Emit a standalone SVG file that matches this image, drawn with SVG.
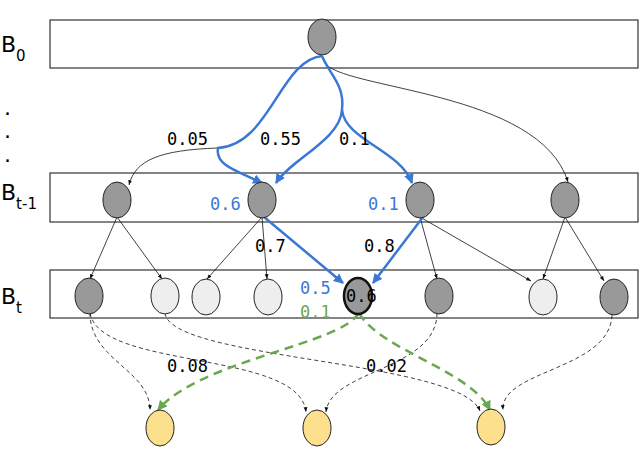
<svg xmlns="http://www.w3.org/2000/svg" width="644" height="450" viewBox="0 0 644 450">
<style>
.box{fill:#fff;stroke:#333;stroke-width:1.2}
.d{fill:#999;stroke:#222;stroke-width:1}
.l{fill:#eee;stroke:#222;stroke-width:1}
.y{fill:#fde08e;stroke:#222;stroke-width:1}
.k{fill:none;stroke:#111;stroke-width:0.8}
.kd{fill:none;stroke:#111;stroke-width:0.8;stroke-dasharray:4 3}
.b{fill:none;stroke:#3a78d6;stroke-width:2.5}
.g{fill:none;stroke:#6aa84f;stroke-width:2.5;stroke-dasharray:9 6}
text{font-family:"DejaVu Sans Mono",monospace;font-size:17px}
.lab{font-family:"DejaVu Sans",sans-serif;font-size:22px}
</style>
<defs>
<marker id="ak" viewBox="0 0 10 10" refX="10" refY="5" markerWidth="6" markerHeight="6" orient="auto"><path d="M0,1 L10,5 L0,9z" fill="#111"/></marker>
<marker id="ab" viewBox="0 0 10 10" refX="9" refY="5" markerWidth="4" markerHeight="4" orient="auto"><path d="M0,0 L10,5 L0,10z" fill="#3a78d6"/></marker>
<marker id="ag" viewBox="0 0 10 10" refX="9" refY="5" markerWidth="4" markerHeight="4" orient="auto"><path d="M0,0 L10,5 L0,10z" fill="#6aa84f"/></marker>
</defs>
<rect class="box" x="50" y="20" width="588" height="48"/>
<rect class="box" x="50" y="173" width="588" height="49"/>
<rect class="box" x="50" y="270" width="588" height="48"/>
<text class="lab" x="1" y="52">B<tspan font-size="15" dy="9">0</tspan></text>
<text class="lab" x="1" y="200">B<tspan font-size="15" dy="9">t-1</tspan></text>
<text class="lab" x="1" y="304">B<tspan font-size="15" dy="9">t</tspan></text>
<text class="lab" x="4" y="115" font-size="14">.</text>
<text class="lab" x="4" y="138" font-size="14">.</text>
<text class="lab" x="4" y="162" font-size="14">.</text>
<g id="connectors">
<path class="k" d="M218,148 C160,150 135,160 129,185" marker-end="url(#ak)"/>
<path class="k" d="M324,62 C340,90 540,90 568,182" marker-end="url(#ak)"/>
<path class="b" d="M322,56 C280,60 270,145 218,148 C215,165 235,170 262,183" marker-end="url(#ab)"/>
<path class="b" d="M322,56 C330,75 345,85 342,110 C340,140 290,160 276,183" marker-end="url(#ab)"/>
<path class="b" d="M342,110 C345,140 400,150 412,183" marker-end="url(#ab)"/>
<line class="k" x1="117" y1="217" x2="90" y2="279" marker-end="url(#ak)"/>
<line class="k" x1="117" y1="217" x2="162" y2="279" marker-end="url(#ak)"/>
<line class="k" x1="262" y1="217" x2="207" y2="279" marker-end="url(#ak)"/>
<line class="k" x1="262" y1="217" x2="267" y2="279" marker-end="url(#ak)"/>
<line class="k" x1="420" y1="217" x2="437" y2="279" marker-end="url(#ak)"/>
<line class="k" x1="420" y1="217" x2="531" y2="281" marker-end="url(#ak)"/>
<line class="k" x1="565" y1="217" x2="543" y2="279" marker-end="url(#ak)"/>
<line class="k" x1="565" y1="217" x2="604" y2="281" marker-end="url(#ak)"/>
<line class="b" x1="264" y1="217" x2="343" y2="283" marker-end="url(#ab)"/>
<line class="b" x1="423" y1="217" x2="373" y2="283" marker-end="url(#ab)"/>
<path class="kd" d="M90,313 C90,360 150,370 150,410" marker-end="url(#ak)"/>
<path class="kd" d="M90,313 C100,370 300,350 306,412" marker-end="url(#ak)"/>
<path class="kd" d="M165,313 C170,360 460,360 480,411" marker-end="url(#ak)"/>
<path class="kd" d="M437,313 C437,370 330,370 326,412" marker-end="url(#ak)"/>
<path class="kd" d="M612,315 C610,370 500,370 503,410" marker-end="url(#ak)"/>
<path class="g" d="M359,313 C340,345 200,360 158,410" marker-start="url(#ag)" marker-end="url(#ag)"/>
<path class="g" d="M359,313 C380,350 470,370 490,410" marker-end="url(#ag)"/>
</g>
<g id="n0"><ellipse class="d" cx="322" cy="37" rx="14" ry="18"/></g>
<g id="n1"><ellipse class="d" cx="117" cy="200" rx="14" ry="18"/></g>
<g id="n2"><ellipse class="d" cx="262" cy="200" rx="14" ry="18"/></g>
<g id="n3"><ellipse class="d" cx="420" cy="200" rx="14" ry="18"/></g>
<g id="n4"><ellipse class="d" cx="565" cy="200" rx="14" ry="18"/></g>
<g id="m1"><ellipse class="d" cx="89" cy="296" rx="14" ry="18"/></g>
<g id="m2"><ellipse class="l" cx="165" cy="296" rx="14" ry="18"/></g>
<g id="m3"><ellipse class="l" cx="206" cy="297" rx="14" ry="18"/></g>
<g id="m4"><ellipse class="l" cx="268" cy="297" rx="14" ry="18"/></g>
<g id="m5"><ellipse cx="358" cy="296" rx="14" ry="18" fill="#999" stroke="#111" stroke-width="2.5"/><text x="346" y="302" font-size="15">0.6</text></g>
<g id="m6"><ellipse class="d" cx="439" cy="296" rx="14" ry="18"/></g>
<g id="m7"><ellipse class="l" cx="543" cy="297" rx="14" ry="18"/></g>
<g id="m8"><ellipse class="d" cx="614" cy="297" rx="14" ry="18"/></g>
<g id="y1"><ellipse class="y" cx="160" cy="428" rx="14" ry="18"/></g>
<g id="y2"><ellipse class="y" cx="317" cy="428" rx="14" ry="18"/></g>
<g id="y3"><ellipse class="y" cx="491" cy="427" rx="14" ry="18"/></g>
<text x="167" y="145">0.05</text>
<text x="260" y="145">0.55</text>
<text x="339" y="145">0.1</text>
<text x="210" y="210" fill="#3a78d6">0.6</text>
<text x="368" y="210" fill="#3a78d6">0.1</text>
<text x="255" y="252">0.7</text>
<text x="364" y="252">0.8</text>
<text x="300" y="294" fill="#3a78d6">0.5</text>
<text x="300" y="318" fill="#6aa84f">0.1</text>
<text x="167" y="372">0.08</text>
<text x="366" y="372">0.02</text>
</svg>
